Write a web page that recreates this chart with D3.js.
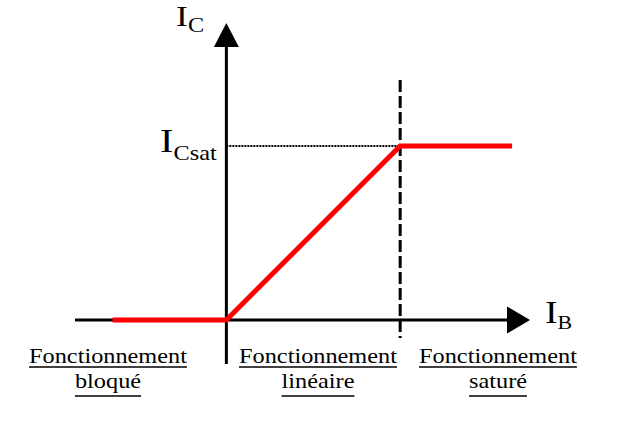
<!DOCTYPE html>
<html>
<head>
<meta charset="utf-8">
<script src="https://cdn.jsdelivr.net/npm/d3@7"></script>
<style>
  html, body { margin: 0; padding: 0; background: #fff; }
  svg { display: block; }
</style>
</head>
<body>
<svg id="chart" width="635" height="427"></svg>
<script>
// ---- data ----
const ibValues = [-0.655, 0, 1, 1.644];   // base current (normalised, saturation at 1)
const icValues = [0, 0, 1, 1];            // collector current (normalised, I_Csat = 1)
const ibSat = 1;
const icSat = 1;
const regionLine1 = ["Fonctionnement", "Fonctionnement", "Fonctionnement"];
const regionLine2 = ["bloqué", "linéaire", "saturé"];
const axisLabelX = ["I", "B"];
const axisLabelY = ["I", "C"];
const satLabel = ["I", "Csat"];

// ---- layout ----
const FONT = "'Liberation Serif', 'DejaVu Serif', 'Times New Roman', Times, serif";
const xDomain = [-0.871, 1.747];
const yDomain = [-0.253, 1.707];
const x = d3.scaleLinear().domain(xDomain).range([75, 530]);
const y = d3.scaleLinear().domain(yDomain).range([364, 23]);
const stretch = 1.215;          // horizontal stretch of the reference text
const regionCenters = [108, 318, 498];

const svg = d3.select("#chart");

// dotted line to I_Csat
svg.append("line")
  .attr("x1", x(0)).attr("x2", x(ibSat) - 1)
  .attr("y1", y(icSat)).attr("y2", y(icSat))
  .attr("stroke", "#000").attr("stroke-width", 2)
  .attr("stroke-dasharray", "2,1");

// dashed saturation boundary
svg.append("line")
  .attr("x1", x(ibSat)).attr("x2", x(ibSat))
  .attr("y1", y(1.379)).attr("y2", y(-0.103))
  .attr("stroke", "#000").attr("stroke-width", 3)
  .attr("stroke-dasharray", "12,4");

// axes
const arrowLen = 23, arrowHalf = 12.5;
svg.append("line")
  .attr("x1", x(xDomain[0])).attr("x2", x(xDomain[1]) - arrowLen)
  .attr("y1", y(0)).attr("y2", y(0))
  .attr("stroke", "#000").attr("stroke-width", 3);
svg.append("path")
  .attr("d", d3.line()([[x(xDomain[1]), y(0)], [x(xDomain[1]) - arrowLen, y(0) - arrowHalf - 1], [x(xDomain[1]) - arrowLen, y(0) + arrowHalf + 1]]) + "Z")
  .attr("fill", "#000");
svg.append("line")
  .attr("x1", x(0)).attr("x2", x(0))
  .attr("y1", y(yDomain[0])).attr("y2", y(yDomain[1]) + 24)
  .attr("stroke", "#000").attr("stroke-width", 3);
svg.append("path")
  .attr("d", d3.line()([[x(0), y(yDomain[1])], [x(0) - arrowHalf, y(yDomain[1]) + 24], [x(0) + arrowHalf, y(yDomain[1]) + 24]]) + "Z")
  .attr("fill", "#000");

// characteristic curve
svg.append("path")
  .datum(ibValues.map((v, i) => [v, icValues[i]]))
  .attr("d", d3.line().x(d => x(d[0])).y(d => y(d[1])))
  .attr("fill", "none")
  .attr("stroke", "#ff0000")
  .attr("stroke-width", 5)
  .attr("stroke-linejoin", "miter");

// helper for stretched text
function txt(str, left, baseline, size, anchor) {
  return svg.append("text")
    .attr("transform", `translate(${left},${baseline}) scale(${stretch},1)`)
    .attr("font-family", FONT)
    .attr("font-size", size)
    .attr("fill", "#000")
    .attr("text-anchor", anchor || "start")
    .text(str);
}
// symbol with subscript as one text element
function sym(parts, left, baseline, size, subLeft, subDrop, subSize) {
  const t = svg.append("text")
    .attr("transform", `translate(${left},${baseline}) scale(${stretch},1)`)
    .attr("font-family", FONT)
    .attr("fill", "#000");
  t.append("tspan").attr("x", 0).attr("y", 0).attr("font-size", size).text(parts[0]);
  t.append("tspan").attr("x", (subLeft - left) / stretch).attr("y", subDrop)
    .attr("font-size", subSize).text(parts[1]);
  return t;
}

// axis labels
sym(axisLabelY, 176, 26, 29, 188, 6, 20);
sym(axisLabelX, 545, 323, 31, 557.5, 6, 18);
sym(satLabel, 160, 152, 33, 173.5, 8, 20);

// region labels (underlined)
regionCenters.forEach((cx, i) => {
  [[regionLine1[i], 363, 367], [regionLine2[i], 388, 396]].forEach(([s, base, ul]) => {
    const t = txt(s, cx, base, 20, "middle");
    const w = t.node().getComputedTextLength() * stretch;
    svg.append("line")
      .attr("x1", cx - w / 2).attr("x2", cx + w / 2)
      .attr("y1", ul).attr("y2", ul)
      .attr("stroke", "#000").attr("stroke-width", 1.5);
  });
});
</script>
</body>
</html>
